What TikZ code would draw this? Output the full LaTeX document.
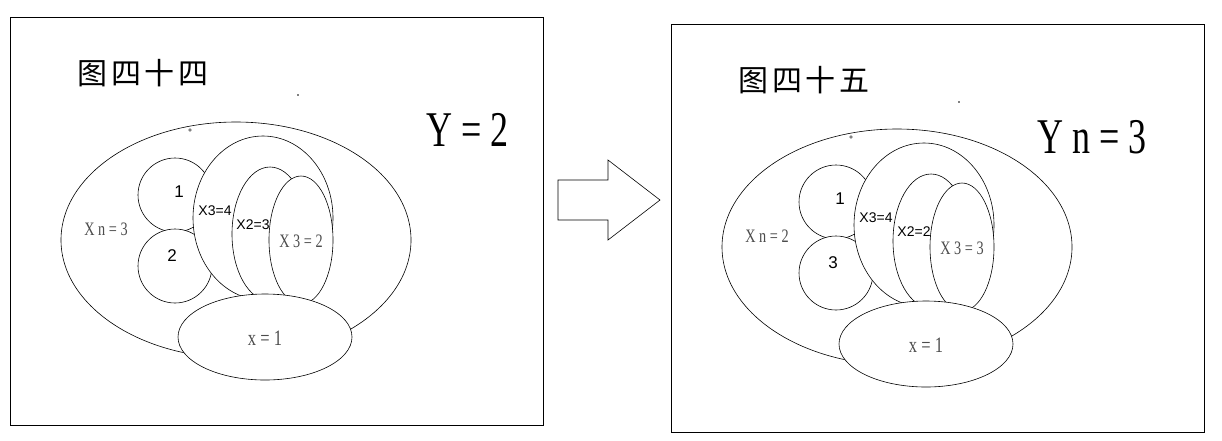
\documentclass[tikz,border=0pt]{standalone}
\usepackage{fontspec}
\setmainfont{Liberation Serif}
\newfontfamily\cjk{Noto Sans CJK SC}
\newfontfamily\arialf{Liberation Sans}
\newfontfamily\spaced{Liberation Serif}[LetterSpace=25]
\tikzset{
 shp/.style={draw,fill=white,line width=0.6pt},
 frm/.style={draw,line width=0.6pt},
 lab/.style={font=\arialf\fontsize{14}{14}\selectfont},
 nlab/.style={font=\spaced\fontsize{19}{19}\selectfont,xscale=0.75,text=black!70},
 big/.style={font=\spaced\fontsize{50}{50}\selectfont,xscale=0.72},
 ttl/.style={font=\cjk\fontsize{30}{30}\selectfont\addfontfeature{LetterSpace=12}},
}
\newcommand{\panel}[8]{%
 \draw[frm] (10,17) rectangle (543,425);
 \node[ttl] (t#1) at (143,73) {#2};
 \node[big,anchor=west] (y#1) at (#8,130) {#3};
 \fill (298,95) circle (0.8);
 \draw[shp] (236,240) ellipse [x radius=175,y radius=118];
 \draw (190,130) circle (1.4);
 \draw[shp] (175,195) circle (37);
 \draw[shp] (175,266) circle (37);
 \draw[shp] (263,218) ellipse [x radius=70,y radius=82];
 \draw[shp] (270,234) ellipse [x radius=38,y radius=67];
 \draw[shp] (301,240) ellipse [x radius=32,y radius=64];
 \draw[shp] (265,337) ellipse [x radius=87,y radius=43];
 \node[nlab] (xn#1) at (106,229) {#4};
 \node[lab,font=\arialf\fontsize{17}{17}\selectfont] (c1#1) at (179,192) {1};
 \node[lab,font=\arialf\fontsize{17}{17}\selectfont] (c2#1) at (172,256) {#5};
 \node[lab] (a#1) at (215,211) {X3=4};
 \node[lab] (b#1) at (253,225) {X2=#6};
 \node[nlab] (c#1) at (301,241) {X3=#7};
 \node[nlab,font=\spaced\fontsize{22}{22}\selectfont] (x#1) at (265,338) {x=1};
}
\begin{document}
\begin{tikzpicture}[x=1pt,y=-1pt]
\useasboundingbox (0,0) rectangle (1222,440);
\begin{scope}
\panel{L}{图四十四}{Y=2}{Xn=3}{2}{3}{2}{424}
\end{scope}
\begin{scope}[shift={(661,7)}]
\panel{R}{图四十五}{Yn=3}{Xn=2}{3}{2}{3}{374}
\end{scope}
\draw[frm,line join=miter] (558,180) coordinate (a0) -- (608,180) -- (608,160) -- (660,200) -- (608,240) -- (608,220) -- (558,220) -- cycle;
\end{tikzpicture}
\end{document}
